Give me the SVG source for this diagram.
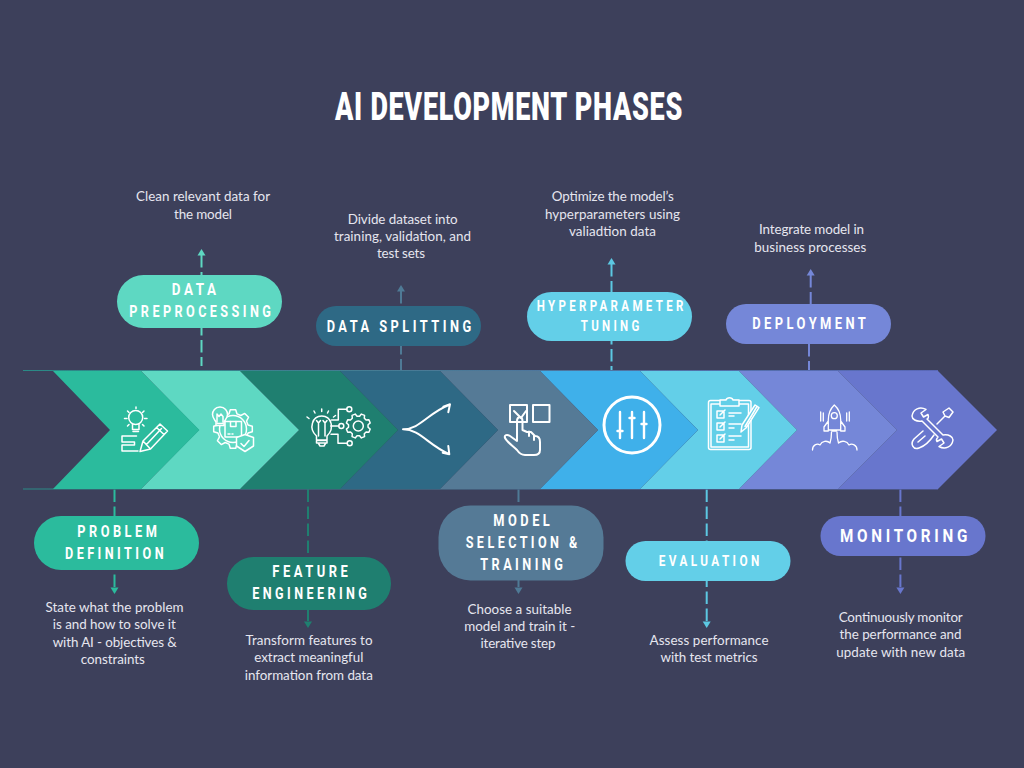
<svg xmlns="http://www.w3.org/2000/svg" width="1024" height="768" viewBox="0 0 1024 768">
<style>
.t{font-family:"Roboto","Liberation Sans",sans-serif;font-weight:700;font-size:16.5px;letter-spacing:4.5px;fill:#fff}
.b{font-family:"Lato","Noto Sans",sans-serif;font-size:13.4px;fill:#e6e6ef;text-anchor:middle}
.ti{font-family:"Roboto","Liberation Sans",sans-serif;font-weight:900;font-size:38px;letter-spacing:1px;fill:#fff}
.i{fill:none;stroke:#fff;stroke-width:1.5;stroke-linecap:round;stroke-linejoin:round}
.c{fill:none;stroke-width:2;stroke-dasharray:12.500 4.500}
#gear{vector-effect:non-scaling-stroke}
</style>
<defs>
<path id="gear" d="M7.730 -2.070L9.900 -1.390 9.900 1.390 7.730 2.070 6.930 4 7.990 6.020 6.020 7.990 4 6.930 2.070 7.730 1.390 9.900 -1.390 9.900 -2.070 7.730 -4 6.930 -6.020 7.990 -7.990 6.020 -6.930 4 -7.730 2.070 -9.900 1.390 -9.900 -1.390 -7.730 -2.070 -6.930 -4 -7.990 -6.020 -6.020 -7.990 -4 -6.930 -2.070 -7.730 -1.390 -9.900 1.390 -9.900 2.070 -7.730 4 -6.930 6.020 -7.990 7.990 -6.020 6.930 -4Z"/>
<linearGradient id="edge" gradientUnits="userSpaceOnUse" x1="23" y1="0" x2="938" y2="0"><stop offset="0" stop-color="#2a8a86"/><stop offset=".45" stop-color="#4a7a96"/><stop offset="1" stop-color="#5a68b8"/></linearGradient>
</defs>
<rect width="1024" height="768" fill="#3d405b"/>
<text class="ti" x="335" y="120" textLength="348" lengthAdjust="spacingAndGlyphs">AI DEVELOPMENT PHASES</text>
<g id="connectors">
<path class="c" stroke="#2bbb9d" d="M114.500 587V489"/><polygon points="110.500,587.500 118.500,587.500 114.500,594" fill="#2bbb9d"/>
<path class="c" stroke="#5ed8c2" d="M201.500 255V366"/><polygon points="197.500,255.500 205.500,255.500 201.500,249" fill="#5ed8c2"/>
<path class="c" stroke="#1f7f70" d="M308 621V489"/><polygon points="304,621.500 312,621.500 308,628" fill="#1f7f70"/>
<path class="c" stroke="#4f7a96" d="M401 291V370"/><polygon points="397,291.500 405,291.500 401,285" fill="#4f7a96"/>
<path class="c" stroke="#4f7a96" d="M518.500 587V489"/><polygon points="514.500,587.500 522.500,587.500 518.500,594" fill="#4f7a96"/>
<path class="c" stroke="#5cc8e2" d="M611.500 264V370"/><polygon points="607.500,264.500 615.500,264.500 611.500,258" fill="#5cc8e2"/>
<path class="c" stroke="#5cc8e2" d="M706.700 621V489"/><polygon points="702.700,621.500 710.700,621.500 706.700,628" fill="#5cc8e2"/>
<path class="c" stroke="#7587d8" d="M810.700 275V304"/><path class="c" stroke="#7587d8" d="M809 344V370"/><polygon points="806.700,275.500 814.700,275.500 810.700,269" fill="#7587d8"/>
<path class="c" stroke="#6876cd" d="M900.400 587V489"/><polygon points="896.400,587.500 904.400,587.500 900.400,594" fill="#6876cd"/>
</g>
<g id="band">
<path d="M23 370.500H938M23 489H938" stroke="url(#edge)" stroke-width="1.200" fill="none"/>
<polygon points="838,371 938,371 997,430 938,489 838,489 897,430" fill="#6876cd"/>
<polygon points="739,371 838,371 897,430 838,489 739,489 797,430" fill="#7587d8"/>
<polygon points="640,371 739,371 797,430 739,489 640,489 698,430" fill="#63cfe8"/>
<polygon points="540,371 640,371 698,430 640,489 540,489 598,430" fill="#3fb0ea"/>
<polygon points="440,371 540,371 598,430 540,489 440,489 498,430" fill="#557a96"/>
<polygon points="340,371 440,371 498,430 440,489 340,489 398,430" fill="#2e6985"/>
<polygon points="240,371 340,371 398,430 340,489 240,489 299,430" fill="#1f7f70"/>
<polygon points="141,371 240,371 299,430 240,489 141,489 199,430" fill="#5ed8c2"/>
<polygon points="53,371 141,371 199.500,430 141,489 53,489 110,430" fill="#2bbb9d"/>
</g>
<g id="icon-problem" class="i">
<circle cx="135.700" cy="417.500" r="7"/><path d="M132.500 424V429.500H139V424M133 431.500H138.500M136 407V408.500M124.500 418.500H127M144.500 418.500H147M127.500 411L129 412.500M144 411L142.500 412.500M127.500 426L129 424.500M144 426L142.500 424.500"/>
<path d="M138 451H122V445H134.500V442H122V436H136.500"/>
<path d="M140 451.500L143 441L160 424L167.500 431L150.500 449ZM143 441L150.500 449M146.500 444.500L161.500 428.500M156.500 427.500L164 434.500"/>
</g>
<g id="icon-prep" class="i">
<use href="#gear" transform="translate(233 429) scale(1.950)"/>
<circle cx="233" cy="429" r="13.500"/>
<path style="fill:#5ed8c2" d="M225 421.500H241.500V437H225Z"/><path d="M230.500 421.500V426.500H236V421.500M228 434H230M232 434H233"/>
<path style="fill:#5ed8c2" d="M220 407C215 407 212.500 411 212.500 414.500C212.500 418 215 420 216 422V425.500H224V422C225 420 227.500 418 227.500 414.500C227.500 411 225 407 220 407Z"/><path d="M217 422V414L219 416.500 221 414 223 416.500V422M217 423.500H223"/>
<path style="fill:#5ed8c2" d="M245 434.500L253.500 437.500V446L245 451.500L236.500 446V437.500Z"/><path d="M241 443.500L244 446.500L249 440.500"/>
</g>
<g id="icon-feature" class="i">
<path d="M316.500 440V436C312 432 311 428 312.500 423C315 413.500 328.500 413.500 331 423C332.500 428 331 432 327 436V440ZM316.500 440.500H327V443H316.500ZM318.500 443.500L320 446H324L325.500 443.500M318.500 436V423M325 436V423M316.500 420.500L318.500 423 320.500 420.500M323 420.500L325 423 327 420.500M307 417L309 418.500M314 411L315 413M321.700 409V411.500M328.500 411L327.500 413M335.500 415.500L333.500 417"/>
<path d="M331.500 420H338.300V409.300H346.800M330.700 426H338.800M331 434.300H338V443.300H347.200"/><circle cx="349.300" cy="409.300" r="2.500"/><circle cx="341.300" cy="426" r="2.500"/><circle cx="349.700" cy="443.300" r="2.500"/>
<circle cx="358.300" cy="426" r="5"/><use href="#gear" transform="translate(358.300 426) rotate(22.500) scale(1.230)"/>
</g>
<g id="icon-split" class="i" style="stroke-width:2">
<path d="M403 429.300C420 429.300 428 413 449.500 404.800M403 429.300C420 429.300 428 445 449 454M443.300 406.700L450 404.300 448.300 412.300M442.700 452.700L449.300 454.300 448.300 446"/>
</g>
<g id="icon-model" class="i" style="stroke-width:2">
<rect x="510" y="405" width="17" height="17"/><rect x="533" y="405" width="16.500" height="17"/><path d="M514 411L520 417M526 411L521 418"/>
<path d="M517 450C513 446 507 442 505 438C504 435 507 434 510 436L517 441V421C517 416 522.500 416 522.500 421V430L527 432 531 432 535 436C539 436 540 439 540 442V450C540 454 537 455 534 455H525C521 455 519 453 517 450ZM529 431.500V436M534 435.500V440"/>
</g>
<g id="icon-tune" class="i">
<circle cx="632" cy="425" r="28" stroke-width="3"/>
<path stroke-width="2.400" d="M620 412V438M632 412V438M644 412V438M617.500 431H622.500M629.500 418H634.500M641.500 424H646.500"/>
</g>
<g id="icon-eval" class="i">
<rect x="708.500" y="400.500" width="42.500" height="49" rx="2"/><rect x="711" y="404" width="37.500" height="43"/><path style="fill:#63cfe8" d="M720 406V400H726C727 397 732 397 733 400H739V406Z"/>
<path d="M717 411H724V418H717ZM717 423H724V430H717ZM717 435H724V442H717ZM729 413H741M729 416H734M729 424H741M729 428H734M729 436H741M729 440H734M720 415L725 410M720 427L725 422M720 439L725 434"/>
<path style="fill:#63cfe8" d="M741 432L742 425 755 405 759 407.700 746 428Z"/><path d="M745 426.500L757 406.500"/>
</g>
<g id="icon-deploy" class="i" style="stroke-width:1.300">
<path d="M834.300 405C830 409 828.300 414 828.300 420V430H840.700V420C840.700 414 839 409 834.300 405ZM828.300 421L824 427V431H828.300M840.700 421L845 427V431H840.700M832 431H836.500"/><circle cx="834.300" cy="415.700" r="3"/>
<path d="M820.700 412V421M823.300 413V421M846.700 413V421M849.300 412V421"/>
<path d="M812.500 450C812.500 445 817 443 820 445C822 441 827 440 830 443C831 440 831.500 436 831.500 432M857 450C857 445 852 443 849 445C847 441 842 440 838.500 443C837.500 440 837 436 837 432"/>
</g>
<g id="icon-monitor" class="i">
<path d="M926 409.500C920 406 913 409 912 416C912 419 916 422 922 421L938 437C937 438 936 440 937 441.500L941.500 439 944 443 939 446.500C945 450 952 447 953 440C953 437 949 434 943 435L927 419C928 419 929 417 928 414.500L923.500 417 921 413Z"/>
<path d="M937 424L945 416M945 416L943 412 949 408 953 412 949 417.500ZM923 431L914 439C910 444 913 450 919 448C925 446 930 441 934 435M918 442L925 436"/>
</g>
<g id="n1"><rect x="34" y="516" width="165" height="54" rx="27" fill="#2bbb9d"/><text class="t" x="77.300" y="537" textLength="83" lengthAdjust="spacingAndGlyphs">PROBLEM</text><text class="t" x="65" y="559" textLength="102" lengthAdjust="spacingAndGlyphs">DEFINITION</text>
<text class="b" x="114.500" y="612" textLength="138">State what the problem</text><text class="b" x="114.300" y="628.700" textLength="123">is and how to solve it</text><text class="b" x="114.700" y="646.700" textLength="124">with AI - objectives &amp;</text><text class="b" x="112.800" y="664" textLength="64">constraints</text></g>
<g id="n2"><rect x="117" y="275" width="165" height="53" rx="26.500" fill="#5ed8c2"/><text class="t" x="171.700" y="295" textLength="48" lengthAdjust="spacingAndGlyphs">DATA</text><text class="t" x="129.300" y="317" textLength="145" lengthAdjust="spacingAndGlyphs">PREPROCESSING</text>
<text class="b" x="203" y="201" textLength="134">Clean relevant data for</text><text class="b" x="203" y="218.500" textLength="58">the model</text></g>
<g id="n3"><rect x="227" y="557" width="164" height="53" rx="26.500" fill="#1f7f70"/><text class="t" x="272.300" y="577" textLength="79" lengthAdjust="spacingAndGlyphs">FEATURE</text><text class="t" x="252.300" y="599" textLength="118" lengthAdjust="spacingAndGlyphs">ENGINEERING</text>
<text class="b" x="309" y="645" textLength="127">Transform features to</text><text class="b" x="308.800" y="662" textLength="109">extract meaningful</text><text class="b" x="308.800" y="680" textLength="128">information from data</text></g>
<g id="n4"><rect x="316" y="306" width="165" height="40" rx="20" fill="#2e6985"/><text class="t" x="326.700" y="331.500" textLength="148" lengthAdjust="spacingAndGlyphs">DATA SPLITTING</text>
<text class="b" x="402.700" y="224" textLength="110">Divide dataset into</text><text class="b" x="402.500" y="241" textLength="137">training, validation, and</text><text class="b" x="401" y="258" textLength="48">test sets</text></g>
<g id="n5"><rect x="438.500" y="505.500" width="165" height="75" rx="32" fill="#557a96"/><text class="t" x="493.300" y="525.700" textLength="60" lengthAdjust="spacingAndGlyphs">MODEL</text><text class="t" x="465.700" y="548.300" textLength="115" lengthAdjust="spacingAndGlyphs">SELECTION &amp;</text><text class="t" x="480.300" y="570" textLength="86" lengthAdjust="spacingAndGlyphs">TRAINING</text>
<text class="b" x="519.500" y="614" textLength="104">Choose a suitable</text><text class="b" x="519.700" y="631" textLength="111">model and train it -</text><text class="b" x="518" y="648" textLength="75">iterative step</text></g>
<g id="n6"><rect x="527" y="292" width="165" height="49" rx="24.500" fill="#63cfe8"/><text class="t" style="font-size:15.500px" x="536.700" y="311" textLength="150" lengthAdjust="spacingAndGlyphs">HYPERPARAMETER</text><text class="t" style="font-size:15.500px" x="580.700" y="331" textLength="62" lengthAdjust="spacingAndGlyphs">TUNING</text>
<text class="b" x="612.800" y="201" textLength="122">Optimize the model’s</text><text class="b" x="612.500" y="219" textLength="135">hyperparameters using</text><text class="b" x="612.500" y="236" textLength="87">valiadtion data</text></g>
<g id="n7"><rect x="625.500" y="541" width="165" height="40" rx="20" fill="#63cfe8"/><text class="t" style="font-size:15.500px" x="658.700" y="566" textLength="104" lengthAdjust="spacingAndGlyphs">EVALUATION</text>
<text class="b" x="709" y="645" textLength="119">Assess performance</text><text class="b" x="709" y="662" textLength="97">with test metrics</text></g>
<g id="n8"><rect x="726" y="304" width="165" height="40" rx="20" fill="#7587d8"/><text class="t" style="font-size:17px" x="752.300" y="329" textLength="117" lengthAdjust="spacingAndGlyphs">DEPLOYMENT</text>
<text class="b" x="811.500" y="234.300" textLength="105">Integrate model in</text><text class="b" x="810.300" y="252" textLength="112">business processes</text></g>
<g id="n9"><rect x="820.500" y="516" width="165" height="40" rx="20" fill="#6876cd"/><text class="t" style="font-size:18.500px" x="840" y="541.700" textLength="131" lengthAdjust="spacingAndGlyphs">MONITORING</text>
<text class="b" x="900.700" y="622" textLength="124">Continuously monitor</text><text class="b" x="900.500" y="639" textLength="122">the performance and</text><text class="b" x="900.700" y="656.700" textLength="129">update with new data</text></g>
</svg>
